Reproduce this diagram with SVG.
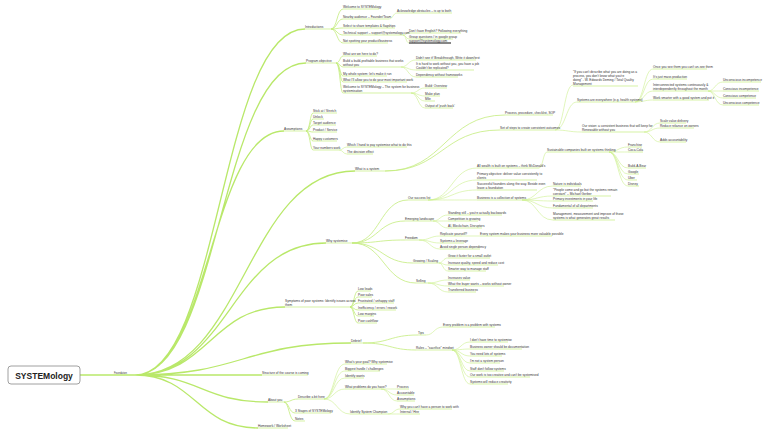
<svg xmlns="http://www.w3.org/2000/svg" width="768" height="437" viewBox="0 0 768 437">
<style>
text{font-family:"Liberation Sans",Arial,sans-serif;font-size:3.2px;fill:#333}
.u{stroke:#c4ec7e;stroke-width:0.7;fill:none}
.c1{stroke:#b9e86a;stroke-width:1.3;fill:none}
.c2{stroke:#c4ec7e;stroke-width:0.8;fill:none}
.c3{stroke:#cdf08f;stroke-width:0.6;fill:none}
.lk{stroke:#111;stroke-width:1.2}
</style>
<rect width="768" height="437" fill="#fff"/>
<g id="connectors">
<path class="c1" d="M80,375H135"/>
<path class="c1" d="M135,375C220,375 220,29 305,29M135,375C220,375 220,63 306,63M135,375C210,375 210,131 284,131M135,375C245,375 245,171 355,171M135,375C230,375 230,243 326,243M135,375C210,375 210,307 285,307M135,375C243,375 243,343 351,343M135,375C198,375 198,375 262,375M135,375C201,375 201,402 268,402M135,375C196,375 196,428 258,428"/>
<path class="c2" d="M331,29C337,29 337,9 343,9M331,29C337,29 337,19 343,19M331,29C337,29 337,28 343,28M331,29C337,29 337,35 343,35M331,29C337,29 337,43 343,43"/>
<path class="c3" d="M389,19C393,19 393,13 397,13M403,35C406,35 406,33 409,33M403,35C406,35 406,39 409,39M403,35C406,35 406,43 409,43"/>
<path class="c2" d="M336,63C340,63 340,56 343,56M336,63C340,63 340,67 343,67M336,63C340,63 340,76 343,76M336,63C340,63 340,82 343,82M336,63C340,63 340,93 343,93"/>
<path class="c3" d="M401,67C408,67 408,60 416,60M401,67C408,67 408,70 416,70M401,67C408,67 408,77 416,77M411,93C418,93 418,88 425,88M411,93C418,93 418,96 425,96M411,93C418,93 418,101 425,101M411,93C418,93 418,108 425,108"/>
<path class="c2" d="M306,131C310,131 310,113 313,113M306,131C310,131 310,119 313,119M306,131C310,131 310,125 313,125M306,131C310,131 310,132 313,132M306,131C310,131 310,141 313,141M306,131C310,131 310,150 313,150"/>
<path class="c3" d="M339,150C343,150 343,147 347,147M339,150C343,150 343,154 347,154"/>
<path class="c2" d="M385,171C445,171 445,115 505,115M385,171C442,171 442,130 500,130"/>
<path class="c3" d="M555,130C566,130 566,102 577,102M555,130C564,130 564,85 573,85M555,130C568,130 568,132 582,132M635,102C644,102 644,69 653,69M635,102C644,102 644,79 653,79M635,102C644,102 644,91 653,91M635,102C644,102 644,100 653,100M708,91C715,91 715,82 723,82M708,91C715,91 715,91 723,91M708,91C715,91 715,98 723,98M708,91C715,91 715,105 723,105M644,132C652,132 652,123 660,123M644,132C652,132 652,128 660,128M644,132C652,132 652,142 660,142"/>
<path class="c2" d="M352,243C380,243 380,200 408,200M352,243C378,243 378,221 405,221M352,243C378,243 378,240 405,240M352,243C382,243 382,263 413,263M352,243C384,243 384,283 416,283"/>
<path class="c3" d="M428,200C452,200 452,168 477,168M428,200C452,200 452,180 477,180M428,200C452,200 452,190 477,190M428,200C452,200 452,200 477,200M539,168C543,168 543,152 547,152M609,152C618,152 618,147 628,147M609,152C618,152 618,152 628,152M609,152C618,152 618,168 628,168M609,152C618,152 618,174 628,174M609,152C618,152 618,180 628,180M609,152C618,152 618,186 628,186M522,200C537,200 537,186 553,186M522,200C537,200 537,196 553,196M522,200C537,200 537,201 553,201M522,200C537,200 537,208 553,208M522,200C537,200 537,220 553,220"/>
<path class="c3" d="M433,221C440,221 440,215 448,215M433,221C440,221 440,221 448,221M433,221C440,221 440,228 448,228M419,240C430,240 430,236 440,236M419,240C430,240 430,243 440,243M419,240C430,240 430,249 440,249M462,236H480M439,263C443,263 443,258 448,258M439,263C443,263 443,265 448,265M439,263C443,263 443,271 448,271M428,283C438,283 438,280 448,280M428,283C438,283 438,286 448,286M428,283C438,283 438,292 448,292"/>
<path class="c2" d="M350,307C354,307 354,291 358,291M350,307C354,307 354,297 358,297M350,307C354,307 354,303 358,303M350,307C354,307 354,310 358,310M350,307C354,307 354,316 358,316M350,307C354,307 354,323 358,323"/>
<path class="c2" d="M363,343C390,343 390,335 418,335M363,343C390,343 390,350 416,350"/>
<path class="c3" d="M426,335C434,335 434,327 443,327M452,350C461,350 461,342 470,342M452,350C461,350 461,349 470,349M452,350C461,350 461,356 470,356M452,350C461,350 461,363 470,363M452,350C461,350 461,371 470,371M452,350C461,350 461,377 470,377M452,350C461,350 461,384 470,384"/>
<path class="c2" d="M284,402C291,402 291,399 298,399M284,402C289,402 289,413 295,413M284,402C289,402 289,421 295,421"/>
<path class="c3" d="M324,399C334,399 334,364 345,364M324,399C334,399 334,371 345,371M324,399C334,399 334,378 345,378M324,399C334,399 334,389 345,389M324,399C337,399 337,414 350,414M381,389C389,389 389,389 397,389M381,389C389,389 389,395 397,395M381,389C389,389 389,401 397,401M388,414C394,414 394,409 400,409M388,414C394,414 394,414 400,414"/>
</g>
<g id="root"><rect x="8" y="366" width="72" height="18" rx="3" fill="#fff" stroke="#888" stroke-width="0.8"/><text x="44" y="378.5" text-anchor="middle" style="font-size:8.5px;font-weight:bold;fill:#222">SYSTEMology</text></g>
<g id="foundation"><text x="114" y="374" style="font-size:2.6px">Foundation</text></g>
<g id="introductions"><text x="305" y="28">Introductions</text><path class="u" d="M305,29h26"/></g>
<g id="a1"><text x="343" y="8">Welcome to SYSTEMology</text><path class="u" d="M343,9h36"/></g>
<g id="a2"><text x="343" y="18">Nearby audience – Founder/Team</text><path class="u" d="M343,19h46"/></g>
<g id="a2a"><text x="397" y="12">Acknowledge obstacles – is up to both</text><path class="u" d="M397,13h55"/></g>
<g id="a3"><text x="343" y="27">Select to share templates &amp; flagships</text><path class="u" d="M343,28h52"/></g>
<g id="a4"><text x="343" y="34">Technical support – support@systemology.com</text><path class="u" d="M343,35h60"/></g>
<g id="a4a"><text x="409" y="32">Don't have English? Following everything</text><path class="u" d="M409,33h52"/></g>
<g id="a4b"><text x="409" y="38">Group questions / in google group</text><path class="u" d="M409,39h44"/></g>
<g id="a4c"><text x="409" y="42">support@systemology.com</text><path class="lk" d="M409,43h42"/></g>
<g id="a5"><text x="343" y="42">Not spotting your product/business</text><path class="u" d="M343,43h45"/></g>
<g id="program"><text x="306" y="62">Program objective</text><path class="u" d="M306,63h30"/></g>
<g id="b1"><text x="343" y="55">What are we here to do?</text><path class="u" d="M343,56h34"/></g>
<g id="b2"><text x="343" y="62">Build a build-profitable business that works</text><text x="343" y="66">without you</text><path class="u" d="M343,67h58"/></g>
<g id="b2a"><text x="416" y="59">Didn't see it! Breakthrough, Write it down/test</text><path class="u" d="M416,60h60"/></g>
<g id="b2b"><text x="416" y="65">It is hard to work without you, you have a job</text><text x="416" y="69">Couldn't be replicated?</text><path class="u" d="M416,70h58"/></g>
<g id="b2c"><text x="416" y="76">Dependency without frameworks</text><path class="u" d="M416,77h42"/></g>
<g id="b3"><text x="343" y="75">My whole system: let's make it run</text><path class="u" d="M343,76h44"/></g>
<g id="b4"><text x="343" y="81">What I'll allow you to do your most important work</text><path class="u" d="M343,82h64"/></g>
<g id="b5"><text x="343" y="88">Welcome to SYSTEMology – The system for business</text><text x="343" y="92">systemisation</text><path class="u" d="M343,93h68"/></g>
<g id="b5a"><text x="425" y="87">Build: Overview</text><path class="u" d="M425,88h22"/></g>
<g id="b5b"><text x="425" y="95">Make plan</text><path class="u" d="M425,96h15"/></g>
<g id="b5c"><text x="425" y="100">Mile</text><path class="u" d="M425,101h10"/></g>
<g id="b5d"><text x="425" y="107">Output of 'push back'</text><path class="u" d="M425,108h28"/></g>
<g id="assumptions"><text x="284" y="130">Assumptions</text><path class="u" d="M284,131h22"/></g>
<g id="c1"><text x="313" y="112">Stick at / Stretch</text><path class="u" d="M313,113h24"/></g>
<g id="c2"><text x="313" y="118">Unlock</text><path class="u" d="M313,119h11"/></g>
<g id="c3"><text x="313" y="124">Target audience</text><path class="u" d="M313,125h23"/></g>
<g id="c4"><text x="313" y="131">Product / Service</text><path class="u" d="M313,132h24"/></g>
<g id="c5"><text x="313" y="140">Happy customers</text><path class="u" d="M313,141h24"/></g>
<g id="c6"><text x="313" y="149">Your numbers work</text><path class="u" d="M313,150h26"/></g>
<g id="c6a"><text x="347" y="146">Which I hand to pay systemise what to do this</text><path class="u" d="M347,147h60"/></g>
<g id="c6b"><text x="347" y="153">The decision effect</text><path class="u" d="M347,154h26"/></g>
<g id="whatis"><text x="355" y="170">What is a system</text><path class="u" d="M355,171h30"/></g>
<g id="d1"><text x="505" y="114">Process, procedure, checklist, SOP</text><path class="u" d="M505,115h48"/></g>
<g id="d2"><text x="500" y="129">Set of steps to create consistent outcomes</text><path class="u" d="M500,130h55"/></g>
<g id="d2q"><text x="573" y="73">"If you can't describe what you are doing as a</text><text x="573" y="77">process, you don't know what you're</text><text x="573" y="81">doing" - W. Edwards Deming / Total Quality</text><text x="573" y="85">Management</text><path class="u" d="M573,86h65"/></g>
<g id="d2a"><text x="577" y="101">Systems are everywhere (e.g. health systems)</text><path class="u" d="M577,102h58"/></g>
<g id="d2a1"><text x="653" y="68">Once you see them you can't un-see them</text><path class="u" d="M653,69h54"/></g>
<g id="d2a2"><text x="653" y="78">It's just mass production</text><path class="u" d="M653,79h34"/></g>
<g id="d2a3"><text x="653" y="86">Interconnected systems continuously &amp;</text><text x="653" y="90">interdependently throughout the month</text><path class="u" d="M653,91h55"/></g>
<g id="d2a31"><text x="723" y="81">Unconscious incompetence</text><path class="u" d="M723,82h38"/></g>
<g id="d2a32"><text x="723" y="90">Conscious incompetence</text><path class="u" d="M723,91h36"/></g>
<g id="d2a33"><text x="723" y="97">Conscious competence</text><path class="u" d="M723,98h33"/></g>
<g id="d2a34"><text x="723" y="104">Unconscious competence</text><path class="u" d="M723,105h36"/></g>
<g id="d2a4"><text x="653" y="99">Work smarter with a good system and put it</text><path class="u" d="M653,100h56"/></g>
<g id="d2b"><text x="582" y="127">Our vision: a consistent business that will keep for</text><text x="582" y="131">Renewable without you</text><path class="u" d="M582,132h62"/></g>
<g id="d2b1"><text x="660" y="122">Scale value delivery</text><path class="u" d="M660,123h26"/></g>
<g id="d2b2"><text x="660" y="127">Reduce reliance on owners</text><path class="u" d="M660,128h34"/></g>
<g id="d2b3"><text x="660" y="141">Adds accountability</text><path class="u" d="M660,142h26"/></g>
<g id="why"><text x="326" y="242">Why systemise</text><path class="u" d="M326,243h26"/></g>
<g id="e1"><text x="408" y="199">Our success list</text><path class="u" d="M408,200h20"/></g>
<g id="e11"><text x="477" y="167">All wealth is built on systems – think McDonald's</text><path class="u" d="M477,168h62"/></g>
<g id="e111"><text x="547" y="151">Sustainable companies built on systems thinking</text><path class="u" d="M547,152h62"/></g>
<g id="f1"><text x="628" y="146">Franchise</text><path class="u" d="M628,147h14"/></g>
<g id="f2"><text x="628" y="151">Coca-Cola</text><path class="u" d="M628,152h15"/></g>
<g id="f3"><text x="628" y="167">Build-A-Bear</text><path class="u" d="M628,168h18"/></g>
<g id="f4"><text x="628" y="173">Google</text><path class="u" d="M628,174h11"/></g>
<g id="f5"><text x="628" y="179">Uber</text><path class="u" d="M628,180h9"/></g>
<g id="f6"><text x="628" y="185">Disney</text><path class="u" d="M628,186h11"/></g>
<g id="e12"><text x="477" y="175">Primary objective: deliver value consistently to</text><text x="477" y="179">clients</text><path class="u" d="M477,180h60"/></g>
<g id="e13"><text x="477" y="185">Successful founders along the way. Beside even</text><text x="477" y="189">leave a foundation</text><path class="u" d="M477,190h60"/></g>
<g id="e14"><text x="477" y="199">Business is a collection of systems</text><path class="u" d="M477,200h45"/></g>
<g id="g1"><text x="553" y="185">Nature is individuals</text><path class="u" d="M553,186h28"/></g>
<g id="g2"><text x="553" y="191">"People come and go but the systems remain</text><text x="553" y="195">constant" – Michael Gerber</text><path class="u" d="M553,196h58"/></g>
<g id="g3"><text x="553" y="200">Primary investments in your life</text><path class="u" d="M553,201h40"/></g>
<g id="g4"><text x="553" y="207">Fundamental of all departments</text><path class="u" d="M553,208h40"/></g>
<g id="g5"><text x="553" y="215">Management, measurement and improve of those</text><text x="553" y="219">systems is what generates great results</text><path class="u" d="M553,220h62"/></g>
<g id="e2"><text x="405" y="220">Emerging landscape</text><path class="u" d="M405,221h28"/></g>
<g id="e21"><text x="448" y="214">Standing still – you're actually backwards</text><path class="u" d="M448,215h54"/></g>
<g id="e22"><text x="448" y="220">Competition is growing</text><path class="u" d="M448,221h30"/></g>
<g id="e23"><text x="448" y="227">AI, Blockchain, Disruptors</text><path class="u" d="M448,228h34"/></g>
<g id="e3"><text x="405" y="239">Freedom</text><path class="u" d="M405,240h14"/></g>
<g id="e31"><text x="440" y="235">Replicate yourself?</text><path class="u" d="M440,236h22"/></g>
<g id="e311"><text x="480" y="235">Every system makes your business more valuable possible</text><path class="u" d="M480,236h72"/></g>
<g id="e32"><text x="440" y="242">Systems = leverage</text><path class="u" d="M440,243h24"/></g>
<g id="e33"><text x="440" y="248">Avoid single person dependency</text><path class="u" d="M440,249h40"/></g>
<g id="e4"><text x="413" y="262">Growing / Scaling</text><path class="u" d="M413,263h26"/></g>
<g id="e41"><text x="448" y="257">Grow it faster for a small outlet</text><path class="u" d="M448,258h42"/></g>
<g id="e42"><text x="448" y="264">Increase quality, speed and reduce cost</text><path class="u" d="M448,265h50"/></g>
<g id="e43"><text x="448" y="270">Smarter way to manage staff</text><path class="u" d="M448,271h38"/></g>
<g id="e5"><text x="416" y="282">Selling</text><path class="u" d="M416,283h12"/></g>
<g id="e51"><text x="448" y="279">Increases value</text><path class="u" d="M448,280h22"/></g>
<g id="e52"><text x="448" y="285">What the buyer wants – works without owner</text><path class="u" d="M448,286h56"/></g>
<g id="e53"><text x="448" y="291">Transferred business</text><path class="u" d="M448,292h28"/></g>
<g id="symptoms"><text x="285" y="302">Symptoms of poor systems: Identify issues across</text><text x="285" y="306">them</text><path class="u" d="M285,307h65"/></g>
<g id="s1"><text x="358" y="290">Low leads</text><path class="u" d="M358,291h13"/></g>
<g id="s2"><text x="358" y="296">Poor sales</text><path class="u" d="M358,297h14"/></g>
<g id="s3"><text x="358" y="302">Frustrated / unhappy staff</text><path class="u" d="M358,303h36"/></g>
<g id="s4"><text x="358" y="309">Inefficiency / errors / rework</text><path class="u" d="M358,310h38"/></g>
<g id="s5"><text x="358" y="315">Low margins</text><path class="u" d="M358,316h16"/></g>
<g id="s6"><text x="358" y="322">Poor cashflow</text><path class="u" d="M358,323h19"/></g>
<g id="debrief"><text x="351" y="342">Debrief</text><path class="u" d="M351,343h12"/></g>
<g id="tips"><text x="418" y="334">Tips</text><path class="u" d="M418,335h8"/></g>
<g id="tips1"><text x="443" y="326">Every problem is a problem with systems</text><path class="u" d="M443,327h52"/></g>
<g id="rules"><text x="416" y="349">Rules – "sacrifice" mindset</text><path class="u" d="M416,350h36"/></g>
<g id="r1"><text x="470" y="341">I don't have time to systemise</text><path class="u" d="M470,342h38"/></g>
<g id="r2"><text x="470" y="348">Business owner should be documentation</text><path class="u" d="M470,349h52"/></g>
<g id="r3"><text x="470" y="355">You need lots of systems</text><path class="u" d="M470,356h32"/></g>
<g id="r4"><text x="470" y="362">I'm not a system person</text><path class="u" d="M470,363h30"/></g>
<g id="r5"><text x="470" y="370">Staff don't follow systems</text><path class="u" d="M470,371h34"/></g>
<g id="r6"><text x="470" y="376">Our work is too creative and can't be systemised</text><path class="u" d="M470,377h60"/></g>
<g id="r7"><text x="470" y="383">Systems will reduce creativity</text><path class="u" d="M470,384h38"/></g>
<g id="structure"><text x="262" y="374">Structure of the course is coming</text><path class="u" d="M262,375h46"/></g>
<g id="about"><text x="268" y="401">About you</text><path class="u" d="M268,402h16"/></g>
<g id="describe"><text x="298" y="398">Describe a bit here</text><path class="u" d="M298,399h26"/></g>
<g id="h1"><text x="345" y="363">What's your goal? Why systemise</text><path class="u" d="M345,364h42"/></g>
<g id="h2"><text x="345" y="370">Biggest hurdle / challenges</text><path class="u" d="M345,371h35"/></g>
<g id="h3"><text x="345" y="377">Identify wants</text><path class="u" d="M345,378h19"/></g>
<g id="h4"><text x="345" y="388">What problems do you have?</text><path class="u" d="M345,389h36"/></g>
<g id="h41"><text x="397" y="388">Process</text><path class="u" d="M397,389h12"/></g>
<g id="h42"><text x="397" y="394">Accountable</text><path class="u" d="M397,395h17"/></g>
<g id="h43"><text x="397" y="400">Assumptions</text><path class="u" d="M397,401h18"/></g>
<g id="h5"><text x="350" y="413">Identify System Champion</text><path class="u" d="M350,414h38"/></g>
<g id="h51"><text x="400" y="408">Why you can't have a person to work with</text><path class="u" d="M400,409h52"/></g>
<g id="h52"><text x="400" y="413">Internal / Hire</text><path class="u" d="M400,414h20"/></g>
<g id="stages"><text x="295" y="412">3 Stages of SYSTEMology</text><path class="u" d="M295,413h36"/></g>
<g id="notes"><text x="295" y="420">Notes</text><path class="u" d="M295,421h10"/></g>
<g id="homework"><text x="258" y="427">Homework / Worksheet</text><path class="u" d="M258,428h30"/></g>
</svg>
